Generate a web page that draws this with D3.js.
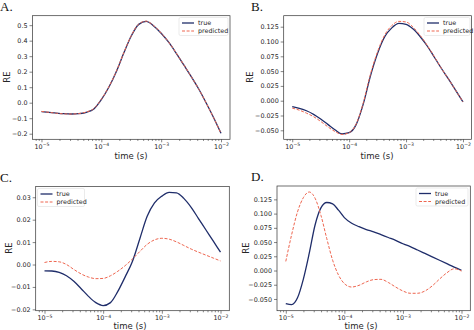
<!DOCTYPE html>
<html>
<head>
<meta charset="utf-8">
<script src="https://cdn.jsdelivr.net/npm/d3@7"></script>
<style>
body { margin: 0; background: #fff; }
text { font-family: "DejaVu Sans", sans-serif; fill: #262626; }
.tag { font-family: "Liberation Serif", "DejaVu Serif", serif; fill: #111; }
</style>
</head>
<body>
<svg id="fig" width="474" height="330"></svg>
<script>
// log10(time) grid shared by panels A-C
var logT = [-5, -4.875, -4.75, -4.625, -4.5, -4.375, -4.25, -4.125, -4, -3.875, -3.75, -3.625, -3.5,
            -3.375, -3.25, -3.125, -3, -2.875, -2.75, -2.625, -2.5, -2.375, -2.25, -2.125, -2];
// finer grid at early times for panel D
var logTD = [-5, -4.9, -4.8, -4.7, -4.6, -4.5, -4.4, -4.3, -4.2, -4.1, -4, -3.875, -3.75, -3.625,
             -3.5, -3.375, -3.25, -3.125, -3, -2.875, -2.75, -2.625, -2.5, -2.375, -2.25, -2.125, -2];

var trueA = [-0.057, -0.062, -0.067, -0.071, -0.073, -0.071, -0.062, -0.040, 0.020, 0.100, 0.200, 0.320, 0.430,
             0.505, 0.524, 0.495, 0.448, 0.390, 0.320, 0.245, 0.170, 0.090, 0.000, -0.095, -0.197];
var predA = [-0.056, -0.062, -0.068, -0.072, -0.073, -0.070, -0.060, -0.038, 0.022, 0.102, 0.202, 0.322, 0.432,
             0.507, 0.526, 0.497, 0.449, 0.391, 0.321, 0.246, 0.170, 0.090, 0.000, -0.096, -0.198];

var trueB = [-0.010, -0.013, -0.017, -0.023, -0.031, -0.040, -0.049, -0.056, -0.054, -0.040, -0.005, 0.042, 0.080,
             0.108, 0.123, 0.1305, 0.129, 0.121, 0.108, 0.092, 0.073, 0.054, 0.036, 0.017, -0.002];
var predB = [-0.0125, -0.016, -0.021, -0.027, -0.035, -0.044, -0.052, -0.057, -0.054, -0.039, -0.003, 0.045, 0.083,
             0.111, 0.127, 0.134, 0.133, 0.124, 0.110, 0.093, 0.074, 0.054, 0.036, 0.017, -0.002];

var trueC = [-0.0028, -0.0029, -0.0035, -0.0050, -0.0075, -0.0108, -0.0142, -0.0170, -0.0183, -0.0170, -0.0120,
             -0.0055, 0.0015, 0.0115, 0.0215, 0.0275, 0.0305, 0.0322, 0.0320, 0.0295, 0.0255, 0.0205, 0.0155,
             0.0105, 0.0055];
var predC = [0.0009, 0.0014, 0.0012, 0.0000, -0.0022, -0.0042, -0.0056, -0.0063, -0.0062, -0.0050, -0.0030,
             -0.0005, 0.0025, 0.0058, 0.0090, 0.0110, 0.0117, 0.0113, 0.0101, 0.0085, 0.0069, 0.0055, 0.0042,
             0.0029, 0.0016];

var trueD = [-0.058, -0.060, -0.048, -0.015, 0.030, 0.080, 0.110, 0.1195, 0.117, 0.106, 0.093, 0.083, 0.077,
             0.072, 0.068, 0.063, 0.058, 0.053, 0.047, 0.042, 0.036, 0.030, 0.024, 0.018, 0.012, 0.006, 0.0005];
var predD = [0.016, 0.063, 0.103, 0.128, 0.138, 0.127, 0.097, 0.056, 0.018, -0.008, -0.023, -0.029, -0.026,
             -0.020, -0.016, -0.0155, -0.021, -0.029, -0.036, -0.040, -0.040, -0.036, -0.027, -0.015, -0.004,
             0.003, -0.001];

var yTicksA = [-0.2, -0.1, 0.0, 0.1, 0.2, 0.3, 0.4, 0.5];
var yTicksB = [-0.05, -0.025, 0, 0.025, 0.05, 0.075, 0.1, 0.125];
var yTicksC = [-0.02, -0.01, 0, 0.01, 0.02, 0.03];
var yTicksD = [-0.05, -0.025, 0, 0.025, 0.05, 0.075, 0.1, 0.125];
var xMajor = [1e-5, 1e-4, 1e-3, 1e-2];
var seriesNames = ['true', 'predicted'];

var trueColor = '#1f2d6a', predColor = '#ee6650';

var panels = [
  {tag: 'A.', tx: 0, ty: 11, left: 32.5, right: 230, top: 15.7, bottom: 139.3, yDom: [-0.236, 0.561],
   ticks: yTicksA, fmt: '.1f', t: logT, tr: trueA, pr: predA, lx: 179, ly: 17.5, lw: 49,
   rex: 10, rey: 77, tix: 131, tiy: 158.5},
  {tag: 'B.', tx: 251, ty: 11, left: 283.7, right: 471.5, top: 15.7, bottom: 139.3, yDom: [-0.0652, 0.1436],
   ticks: yTicksB, fmt: '.3f', t: logT, tr: trueB, pr: predB, lx: 424, ly: 17.5, lw: 46,
   rex: 253, rey: 77, tix: 377, tiy: 158.5},
  {tag: 'C.', tx: 0, ty: 182, left: 35.7, right: 229.3, top: 186.5, bottom: 310.7, yDom: [-0.0206, 0.0348],
   ticks: yTicksC, fmt: '.2f', t: logT, tr: trueC, pr: predC, lx: 37.5, ly: 188.5, lw: 47,
   rex: 12, rey: 248, tix: 130, tiy: 328.5},
  {tag: 'D.', tx: 251, ty: 181, left: 277, right: 470.3, top: 186, bottom: 310.7, yDom: [-0.0706, 0.1485],
   ticks: yTicksD, fmt: '.3f', t: logTD, tr: trueD, pr: predD, lx: 416, ly: 188, lw: 52,
   rex: 249, rey: 248, tix: 361, tiy: 328.5}
];

var svg = d3.select('#fig');

panels.forEach(function(p) {
  var x = d3.scaleLog().domain([Math.pow(10, -5.15), Math.pow(10, -1.85)]).range([p.left, p.right]);
  var y = d3.scaleLinear().domain(p.yDom).range([p.bottom, p.top]);
  var g = svg.append('g');

  // minor ticks 2..9 x 10^k
  var minor = [];
  for (var k = -6; k <= -2; k++)
    for (var m = 2; m <= 9; m++) {
      var v = m * Math.pow(10, k);
      if (v > x.domain()[0] && v < x.domain()[1]) minor.push(v);
    }

  var xMinor = g.append('g').attr('transform', 'translate(0,' + p.bottom + ')')
    .call(d3.axisBottom(x).tickValues(minor).tickSize(1.6).tickFormat(''));
  var xAxis = g.append('g').attr('transform', 'translate(0,' + p.bottom + ')')
    .call(d3.axisBottom(x).tickValues(xMajor).tickSize(3).tickPadding(2));
  xAxis.selectAll('.tick text').text(null).attr('font-size', 6.4).each(function(d) {
    var t = d3.select(this);
    t.append('tspan').text('10');
    t.append('tspan').attr('dy', -2.6).attr('font-size', 4.6).text('\u2212' + Math.round(-Math.log10(d)));
  });

  var yAxis = g.append('g').attr('transform', 'translate(' + p.left + ',0)')
    .call(d3.axisLeft(y).tickValues(p.ticks).tickSize(3).tickPadding(2).tickFormat(d3.format(p.fmt)));
  yAxis.selectAll('.tick text').attr('font-size', 6.4);

  [xMinor, xAxis, yAxis].forEach(function(a) {
    a.select('.domain').remove();
    a.selectAll('.tick line').attr('stroke', '#333').attr('stroke-width', 0.6);
    a.selectAll('.tick text').attr('fill', '#262626').attr('font-family', '"DejaVu Sans", sans-serif');
  });

  g.append('rect').attr('x', p.left).attr('y', p.top)
    .attr('width', p.right - p.left).attr('height', p.bottom - p.top)
    .attr('fill', 'none').attr('stroke', '#333').attr('stroke-width', 0.7);

  var line = d3.line()
    .x(function(d) { return x(Math.pow(10, d[0])); })
    .y(function(d) { return y(d[1]); })
    .curve(d3.curveMonotoneX);

  g.append('path').datum(d3.zip(p.t, p.tr)).attr('d', line)
    .attr('fill', 'none').attr('stroke', trueColor).attr('stroke-width', 1.3);
  g.append('path').datum(d3.zip(p.t, p.pr)).attr('d', line)
    .attr('fill', 'none').attr('stroke', predColor).attr('stroke-width', 1)
    .attr('stroke-dasharray', '3,1.6');

  // legend
  var lg = g.append('g').attr('transform', 'translate(' + p.lx + ',' + p.ly + ')');
  lg.append('rect').attr('width', p.lw).attr('height', 18).attr('rx', 1.5)
    .attr('fill', '#fff').attr('fill-opacity', 0.8).attr('stroke', '#ddd').attr('stroke-width', 0.6);
  seriesNames.forEach(function(name, i) {
    var yy = 5.5 + i * 8;
    lg.append('line').attr('x1', 3).attr('x2', 15).attr('y1', yy).attr('y2', yy)
      .attr('stroke', i ? predColor : trueColor).attr('stroke-width', i ? 1 : 1.3)
      .attr('stroke-dasharray', i ? '3,1.6' : null);
    lg.append('text').attr('x', 19).attr('y', yy + 2.3).attr('font-size', 6.4).text(name);
  });

  // axis titles and panel tag
  g.append('text').attr('transform', 'translate(' + p.rex + ',' + p.rey + ') rotate(-90)')
    .attr('text-anchor', 'middle').attr('font-size', 8.5).text('RE');
  g.append('text').attr('x', p.tix).attr('y', p.tiy)
    .attr('text-anchor', 'middle').attr('font-size', 8.5).text('time (s)');
  svg.append('text').attr('class', 'tag').attr('x', p.tx).attr('y', p.ty)
    .attr('font-size', 13).text(p.tag);
});
</script>
</body>
</html>
